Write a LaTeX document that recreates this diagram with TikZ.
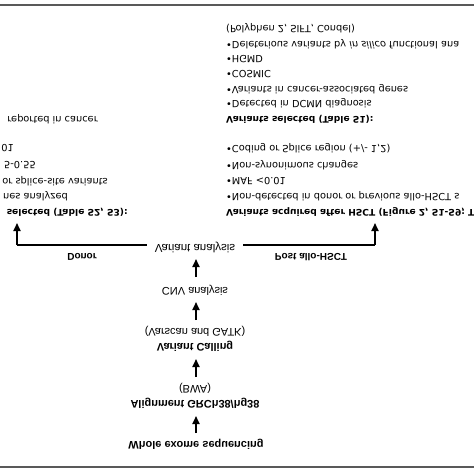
\documentclass[tikz,border=0pt]{standalone}
\usepackage{fontspec}
\setmainfont{Liberation Sans}
\newfontfamily\listfont{DejaVu Sans}
\usetikzlibrary{arrows.meta}
\tikzset{
  lbl/.style={inner sep=0pt, font=\listfont\fontsize{9.8}{12}\selectfont},
  hdr/.style={inner sep=0pt, font=\listfont\fontsize{9.1}{12}\selectfont\bfseries},
  tag/.style={inner sep=0pt, font=\fontsize{10}{12}\selectfont\bfseries},
  chain/.style={inner sep=0pt, font=\fontsize{11}{13}\selectfont},
  chainb/.style={inner sep=0pt, font=\fontsize{11}{13}\selectfont\bfseries},
  flow/.style={line width=1.8pt, -{Triangle[width=7pt,length=8pt]}},
  link/.style={line width=1.8pt},
  rule/.style={line width=1.4pt, draw=black!65}
}
\begin{document}
\begin{tikzpicture}[x=1pt,y=1pt]
\begin{scope}[yscale=-1, transform shape]
\path[use as bounding box] (0,0) rectangle (474,474);
\clip (0,0) rectangle (474,474);
% rules
\coordinate (r1a) at (0,5); \coordinate (r1b) at (474,5);
\coordinate (r2a) at (0,467); \coordinate (r2b) at (474,467);
\draw[rule] (r1a) -- (r1b);
\draw[rule] (r2a) -- (r2b);
% chain
\node[chainb] (wes) at (196,444) {Whole exome sequencing};
\node[chainb] (aln) at (195,403) {Alignment GRCh38/hg38};
\node[chain] (bwa) at (195,388) {(BWA)};
\node[chainb] (vc) at (195,346) {Variant Calling};
\node[chain] (vs) at (195,331) {(Varscan and GATK)};
\node[chain] (cnv) at (195,290) {CNV analysis};
\node[chain, font=\fontsize{11.5}{13}\selectfont] (va) at (195,247) {Variant analysis};
\draw[flow] (196,433) -- (196,416);
\draw[flow] (196,377) -- (196,359);
\draw[flow] (196,320) -- (196,302);
\draw[flow] (196,277) -- (196,259);
% branches
\coordinate (lc) at (17,245);
\coordinate (rc) at (375,245);
\draw[link] (va.west) ++(-8,-2) coordinate (vaw) -- (lc);
\draw[flow] (lc) -- (17,223);
\draw[link] (va.east) ++(8,-2) coordinate (vae) -- (rc);
\draw[flow] (rc) -- (375,223);
\node[tag] (donor) at (82,257) {Donor};
\node[tag] (post) at (311,257) {Post allo-HSCT};
% right block
\node[hdr, anchor=west] (r0) at (226,212) {Variants acquired after HSCT (Figure 2, S1-S9; T};
\node[lbl, anchor=west] (r1) at (226,196) {•Non-detected in donor or previous allo-HSCT s};
\node[lbl, anchor=west] (r2) at (226,181) {•MAF <0.01};
\node[lbl, anchor=west] (r3) at (226,165) {•Non-synonimous changes};
\node[lbl, anchor=west] (r4) at (226,148) {•Coding or Splice region (+/- 1,2)};
\node[hdr, anchor=west] (r5) at (226,119) {Variants selected (Table S1):};
\node[lbl, anchor=west] (r6) at (226,103) {•Detected in DCMN diagnosis};
\node[lbl, anchor=west] (r7) at (226,89) {•Variants in cancer-associated genes};
\node[lbl, anchor=west] (r8) at (226,74) {•COSMIC};
\node[lbl, anchor=west] (r9) at (226,59) {•HGMD};
\node[lbl, anchor=west] (r10) at (226,44) {•Deleterious variants by \textit{in silico} functional ana};
\node[lbl, anchor=west] (r11) at (226,28) {(Polyphen 2, SIFT, Condel)};
% left block
\node[hdr, anchor=east] (l0) at (128,212) {selected (Table S2, S3):};
\node[lbl, anchor=east] (l1) at (68,196) {nes analyzed};
\node[lbl, anchor=east] (l2) at (108,181) {or splice-site variants};
\node[lbl, anchor=east] (l3) at (36,165) {5-0.55};
\node[lbl, anchor=east] (l4) at (14,148) {01};
\node[lbl, anchor=east] (l5) at (98,119) {reported in cancer};
\end{scope}
\end{tikzpicture}
\end{document}
